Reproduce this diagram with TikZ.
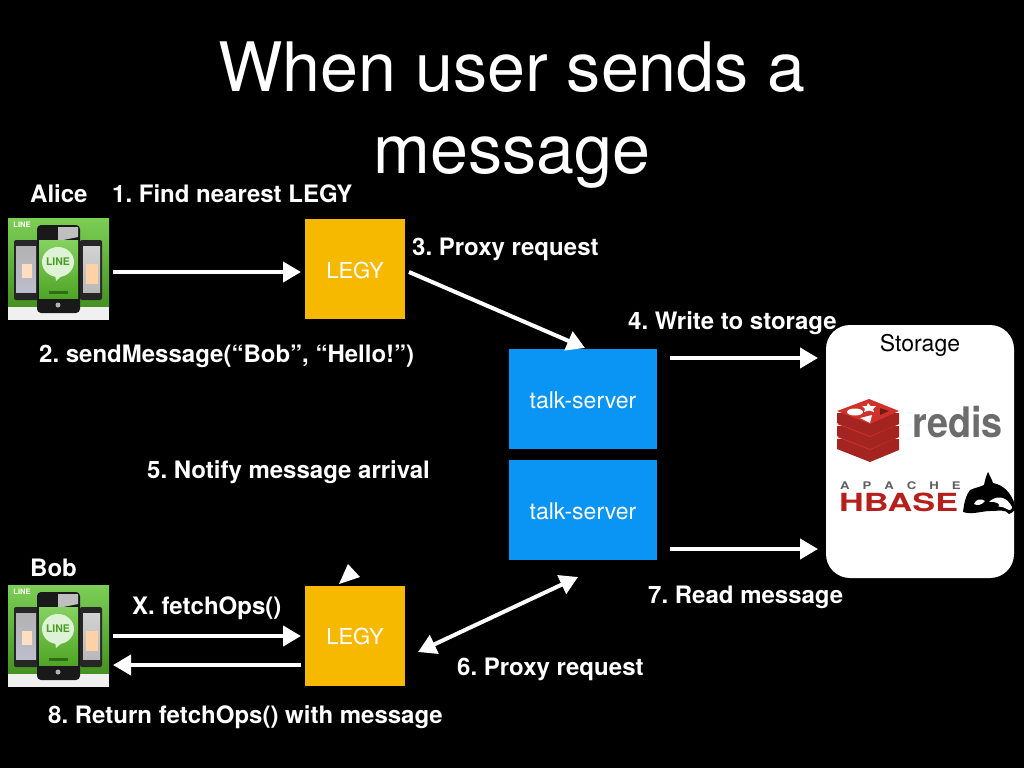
\documentclass[tikz,border=0pt]{standalone}
\usepackage{fontspec}
\usepackage{graphicx}
\setmainfont{TeX Gyre Heros}
\usetikzlibrary{arrows.meta}
\definecolor{legyc}{HTML}{F6B900}
\definecolor{talkc}{HTML}{0A94F4}
\definecolor{lineg}{HTML}{5CC22B}
\definecolor{redisr}{HTML}{CF322A}
\definecolor{redisd}{HTML}{A32420}
\definecolor{hbaser}{HTML}{B5201C}
\frenchspacing
\tikzset{
 lbl/.style={text=white,font=\fontsize{24}{27}\selectfont\bfseries,inner sep=0pt,anchor=base west},
 legybox/.style={fill=legyc,draw=none,text=white,font=\fontsize{22}{26}\selectfont,minimum width=100pt,minimum height=100pt,inner sep=0pt},
 talkbox/.style={fill=talkc,draw=none,text=white,font=\fontsize{23}{27}\selectfont,minimum width=148pt,minimum height=100pt,inner sep=0pt},
 arr/.style={draw=white,line width=4pt,-{Triangle[length=18pt,width=20pt]}},
 darr/.style={draw=white,line width=4pt,{Triangle[length=18pt,width=20pt]}-{Triangle[length=18pt,width=20pt]}},
 pics/phone/.style={code={
   \shade[top color=lineg!80!white,bottom color=lineg!75!black] (0,0) rectangle (101,89);
   \fill[gray!12] (0,89) rectangle (101,102);
   \node[text=white,font=\fontsize{7.5}{8}\selectfont\bfseries,inner sep=0pt] at (14,7) {LINE};
   \fill[black!85,rounded corners=2pt] (6,22) rectangle (30,82);
   \fill[black!85,rounded corners=2pt] (72,22) rectangle (94,82);
   \shade[top color=gray!60,bottom color=blue!15!gray!45] (8,28) rectangle (28,74);
   \shade[top color=gray!35,bottom color=gray!55] (75,28) rectangle (92,74);
   \fill[orange!35!white] (78,46) rectangle (90,66);
   \fill[orange!25!white] (14,46) rectangle (24,60);
   \fill[black!90,rounded corners=4pt] (29,7) rectangle (72,95);
   \fill[gray!50] (50,9) -- (70,9) -- (70,19) -- (50,23) -- cycle;
   \shade[top color=lineg!75!white,bottom color=lineg!85!black] (31,22) rectangle (70,80);
   \fill[white!80!lineg] (50,44) ellipse (16pt and 15pt);
   \fill[white!80!lineg] (47,56) -- (56,56) -- (48,63) -- cycle;
   \node[text=lineg!80!black,font=\fontsize{10.5}{11}\selectfont\bfseries,inner sep=0pt] at (50,44) {LINE};
   \fill[lineg!55!black] (41,73) rectangle (60,76);
   \fill[gray!60] (50,87) circle (2.5pt);
 }}
}
\begin{document}
\begin{tikzpicture}[x=1pt,y=-1pt]
\useasboundingbox (0,0) rectangle (1024,768);
\fill[black] (0,0) rectangle (1024,768);
% title
\node[text=white,font=\fontsize{68.2}{82}\selectfont,align=center,inner sep=0pt] (title) at (512,115) {When user sends a\\message};
% phones
\pic at (8,218) {phone};
\pic at (8,585) {phone};
\coordinate (aliceR) at (113,272);
\coordinate (bobIn) at (113,636);
\coordinate (bobOut) at (113,665);
% boxes
\node[legybox] (legyA) at (355,269) {\raisebox{-9pt}[0pt][0pt]{LEGY}};
\node[legybox] (legyB) at (355,636) {\raisebox{-8pt}[0pt][0pt]{LEGY}};
\node[talkbox] (talkA) at (583,399) {\raisebox{-9.5pt}[0pt][0pt]{talk-server}};
\node[talkbox] (talkB) at (583,510) {\raisebox{-9.5pt}[0pt][0pt]{talk-server}};
% storage
\fill[white,rounded corners=24pt] (826,325) rectangle (1014,578);
\node[text=black,font=\fontsize{23}{26}\selectfont,inner sep=0pt] (storage) at (920,345) {Storage};
\coordinate (stA) at (818,358);
\coordinate (stB) at (818,549);
\coordinate (tkA) at (670,358);
\coordinate (tkB) at (670,549);
\coordinate (lgA) at (409,272);
\coordinate (tkIn) at (585,348);
\coordinate (lgB) at (418,652);
\coordinate (tkOut) at (578,577);
\coordinate (lgAin) at (301,272);
\coordinate (lgBin) at (301,636);
\coordinate (lgBout) at (301,665);
% redis logo
\foreach \dy in {26,13,0}{
  \fill[redisd] (837,413+\dy) -- (837,423+\dy) -- (870,436+\dy) -- (899,424+\dy) -- (899,413+\dy) -- cycle;
  \fill[redisr] (837,411+\dy) -- (869,399+\dy) -- (899,411+\dy) -- (870,424+\dy) -- cycle;
}
\fill[white] (855,412) ellipse (8pt and 3.5pt);
\fill[white] (868,403) -- (870.5,406) -- (876,406) -- (873,409) -- (874,412) -- (869,410.5) -- (864,412) -- (865,409) -- (862,406) -- (866.5,406) -- cycle;
\fill[white] (860,418) -- (872,415) -- (870,423) -- cycle;
\fill[redisd!70!black] (880,408) -- (889,411) -- (880,415) -- cycle;
\node[text=gray!85!black,font=\fontsize{42}{48}\selectfont\bfseries,inner sep=0pt,anchor=base west] (redis) at (912,437) {\scalebox{0.9}[1]{redis}};
% hbase logo
\node[text=gray!75!black,font=\fontsize{10.5}{12}\selectfont\bfseries,inner sep=0pt,anchor=base west] (apache) at (840,489) {\scalebox{1.25}[1]{A}\hskip 13pt\scalebox{1.25}[1]{P}\hskip 13pt\scalebox{1.25}[1]{A}\hskip 13pt\scalebox{1.25}[1]{C}\hskip 13pt\scalebox{1.25}[1]{H}\hskip 13pt\scalebox{1.25}[1]{E}};
\node[text=hbaser,font=\fontsize{25}{28}\selectfont\bfseries,inner sep=0pt,anchor=base west] (hbase) at (839,511) {\scalebox{1.37}[1]{HBASE}};
% orca
\fill[black] (963,512) .. controls (964,503) and (966,495) .. (970,490)
  .. controls (974,488) and (980,487) .. (984,485)
  .. controls (985,480) and (986,476) .. (988,472)
  .. controls (990,476) and (992,480) .. (993,483)
  .. controls (1003,485) and (1011,492) .. (1015,505)
  .. controls (1016,509) and (1014,512) .. (1009,514)
  .. controls (1006,509) and (998,511) .. (990,511)
  .. controls (982,511) and (972,515) .. (963,512) -- cycle;
\fill[white] (974,504) .. controls (976,499) and (981,498) .. (985,501) .. controls (982,505) and (977,506) .. (974,504) -- cycle;
\fill[white] (988,503) .. controls (995,495) and (1006,495) .. (1012,507) .. controls (1012,510) and (1009,511) .. (1007,509) .. controls (1003,506) and (995,507) .. (988,503) -- cycle;
\fill[black] (991,505) ellipse (8pt and 3pt);
% arrows
\draw[arr] (aliceR) -- (lgAin);
\draw[arr] (lgA) -- (tkIn);
\draw[arr] (tkA) -- (stA);
\draw[arr] (tkB) -- (stB);
\draw[darr] (lgB) -- (tkOut);
\draw[arr] (bobIn) -- (lgBin);
\draw[arr] (lgBout) -- (bobOut);
\fill[white] (339,584) -- (348,564) -- (360,577) -- cycle;
% labels
\node[lbl] (nAlice) at (30,202) {Alice};
\node[lbl] (n1) at (112,202) {1. Find nearest LEGY};
\node[lbl] (n2) at (39,362) {2. sendMessage(“Bob”, “Hello!”)};
\node[lbl] (n3) at (412,255) {3. Proxy request};
\node[lbl] (n4) at (628,329) {4. Write to storage};
\node[lbl] (n5) at (147,478) {5. Notify message arrival};
\node[lbl] (nBob) at (30,576) {Bob};
\node[lbl] (nX) at (132,614) {X. fetchOps()};
\node[lbl] (n6) at (457,675) {6. Proxy request};
\node[lbl] (n7) at (648,603) {7. Read message};
\node[lbl] (n8) at (48,723) {8. Return fetchOps() with message};
\end{tikzpicture}
\end{document}
